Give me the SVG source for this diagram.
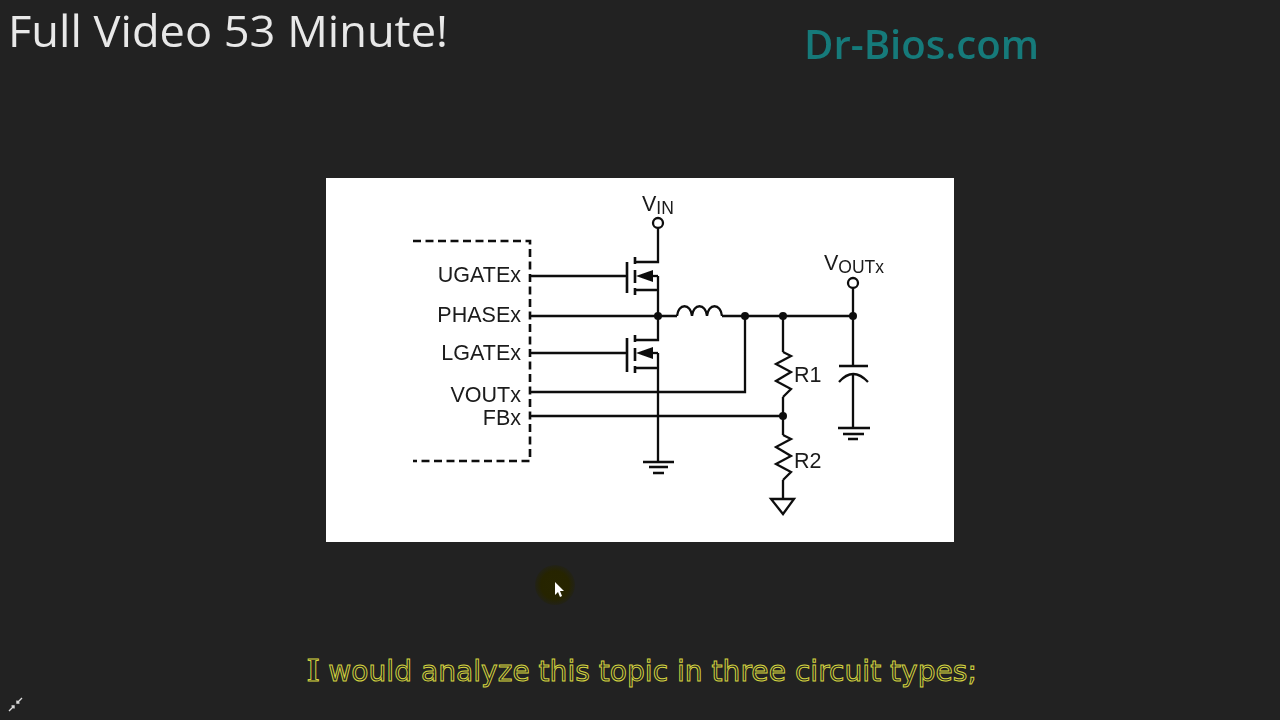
<svg xmlns="http://www.w3.org/2000/svg" width="1280" height="720" viewBox="0 0 1280 720">
<style>
.w{fill:none;stroke:#111;stroke-width:2.3}
.t{font-family:"Liberation Sans",Arial,sans-serif;fill:#1a1a1a;font-size:21.500px}
.e{text-anchor:end}
.s{font-size:17.500px}
.d{fill:#111}
.v{font-family:"Open Sans","Noto Sans",sans-serif}
</style>
<defs>
<radialGradient id="halo"><stop offset="0" stop-color="#272500"/><stop offset="0.7" stop-color="#262400"/><stop offset="1" stop-color="#222218"/></radialGradient>
<filter id="soft" x="-5%" y="-5%" width="110%" height="110%"><feGaussianBlur stdDeviation="0.45"/></filter>
</defs>
<rect width="1280" height="720" fill="#222222"/>
<text id="title" class="v" x="8" y="47" font-size="43" fill="#e8e8e8" textLength="440" lengthAdjust="spacingAndGlyphs" filter="url(#soft)">Full Video 53 Minute!</text>
<text id="brand" class="v" x="804" y="59" font-size="39" font-weight="600" fill="#147a7a" textLength="235" lengthAdjust="spacingAndGlyphs" filter="url(#soft)">Dr-Bios.com</text>
<rect id="sheet" x="326" y="178" width="628" height="364" fill="#ffffff"/>
<g filter="url(#soft)">
<g id="connectors" class="w">
<path d="M530 276H627M530 316H677M530 353H627M530 392H745V316M530 416H783"/>
<path d="M722 316H853M658 228V262H635M658 276V316M635 290H658M658 316V340H635M658 353V462M635 368H658"/>
<path d="M853 288V366M853 374V428M783 316V352M783 397V435M783 480V499"/>
</g>
<g id="ic">
<path d="M413 241H530V461H413" fill="none" stroke="#111" stroke-width="2.6" stroke-dasharray="8 4.5"/>
<text class="t e" x="521" y="282">UGATEx</text>
<text class="t e" x="521" y="322">PHASEx</text>
<text class="t e" x="521" y="360">LGATEx</text>
<text class="t e" x="521" y="402">VOUTx</text>
<text class="t e" x="521" y="425">FBx</text>
</g>
<g id="vin"><circle class="w" cx="658" cy="223" r="5" style="fill:#fff"/><text class="t" x="642" y="211">V<tspan class="s" dy="3">IN</tspan></text></g>
<g id="q1" class="w">
<path d="M627 262V293M635 257V264M635 270V283M635 288V295" stroke-width="2.6"/>
<path d="M653 276H658"/>
<path d="M636 276L653 270V282Z" style="fill:#111;stroke:none"/>
</g>
<g id="q2" class="w">
<path d="M627 338V372M635 335V342M635 348V361M635 366V373" stroke-width="2.6"/>
<path d="M653 353H658"/>
<path d="M636 353L653 347V359Z" style="fill:#111;stroke:none"/>
</g>
<g id="inductor"><path class="w" d="M677 316C678 303 691 303 692 316M692 316C693 303 706 303 707 316M707 316C708 303 721 303 722 316"/></g>
<g id="junctions" class="d">
<circle cx="658" cy="316" r="4"/><circle cx="745" cy="316" r="4"/><circle cx="783" cy="316" r="4"/><circle cx="853" cy="316" r="4"/><circle cx="783" cy="416" r="4"/>
</g>
<g id="vout"><circle class="w" cx="853" cy="283" r="5" style="fill:#fff"/><text class="t" x="824" y="270">V<tspan class="s" dy="3">OUTx</tspan></text></g>
<g id="r1"><path class="w" d="M783 352L791 356L776 364L791 372L776 381L791 389L783 397"/><text class="t" x="794" y="382">R1</text></g>
<g id="r2"><path class="w" d="M783 435L791 439L776 447L791 456L776 464L791 472L783 480"/><text class="t" x="794" y="468">R2</text></g>
<g id="c1"><path class="w" d="M839 366H868M839 382Q853 366 868 382"/></g>
<g id="gnd1"><path class="w" d="M643 462H674M649 467H668M653 473H664"/></g>
<g id="gnd2"><path class="w" d="M838 428H870M843 434H864M848 439H858"/></g>
<g id="gnd3"><path class="w" d="M771 499H794L783 514Z"/></g>
</g>
<g id="cursor"><circle cx="555" cy="585" r="20" fill="url(#halo)"/><path d="M555 582V595L558 592L560 597L562 596L560 591L564 591Z" fill="#fff"/></g>
<text id="caption" x="642" y="681" text-anchor="middle" font-family="'DejaVu Sans','Open Sans',sans-serif" font-size="29" fill="#262620" stroke="#d4d440" stroke-width="1" textLength="670" lengthAdjust="spacingAndGlyphs"><tspan font-family="'Liberation Serif',serif" font-size="33" font-weight="700">I</tspan> would analyze this topic in three circuit types;</text>
<g id="fs" stroke="#ddd" stroke-width="1.4" fill="none"><path d="M22 698L17 703M19.500 703H17V700.500M9 711L14 706M11.500 706H14V708.500"/></g>
</svg>
